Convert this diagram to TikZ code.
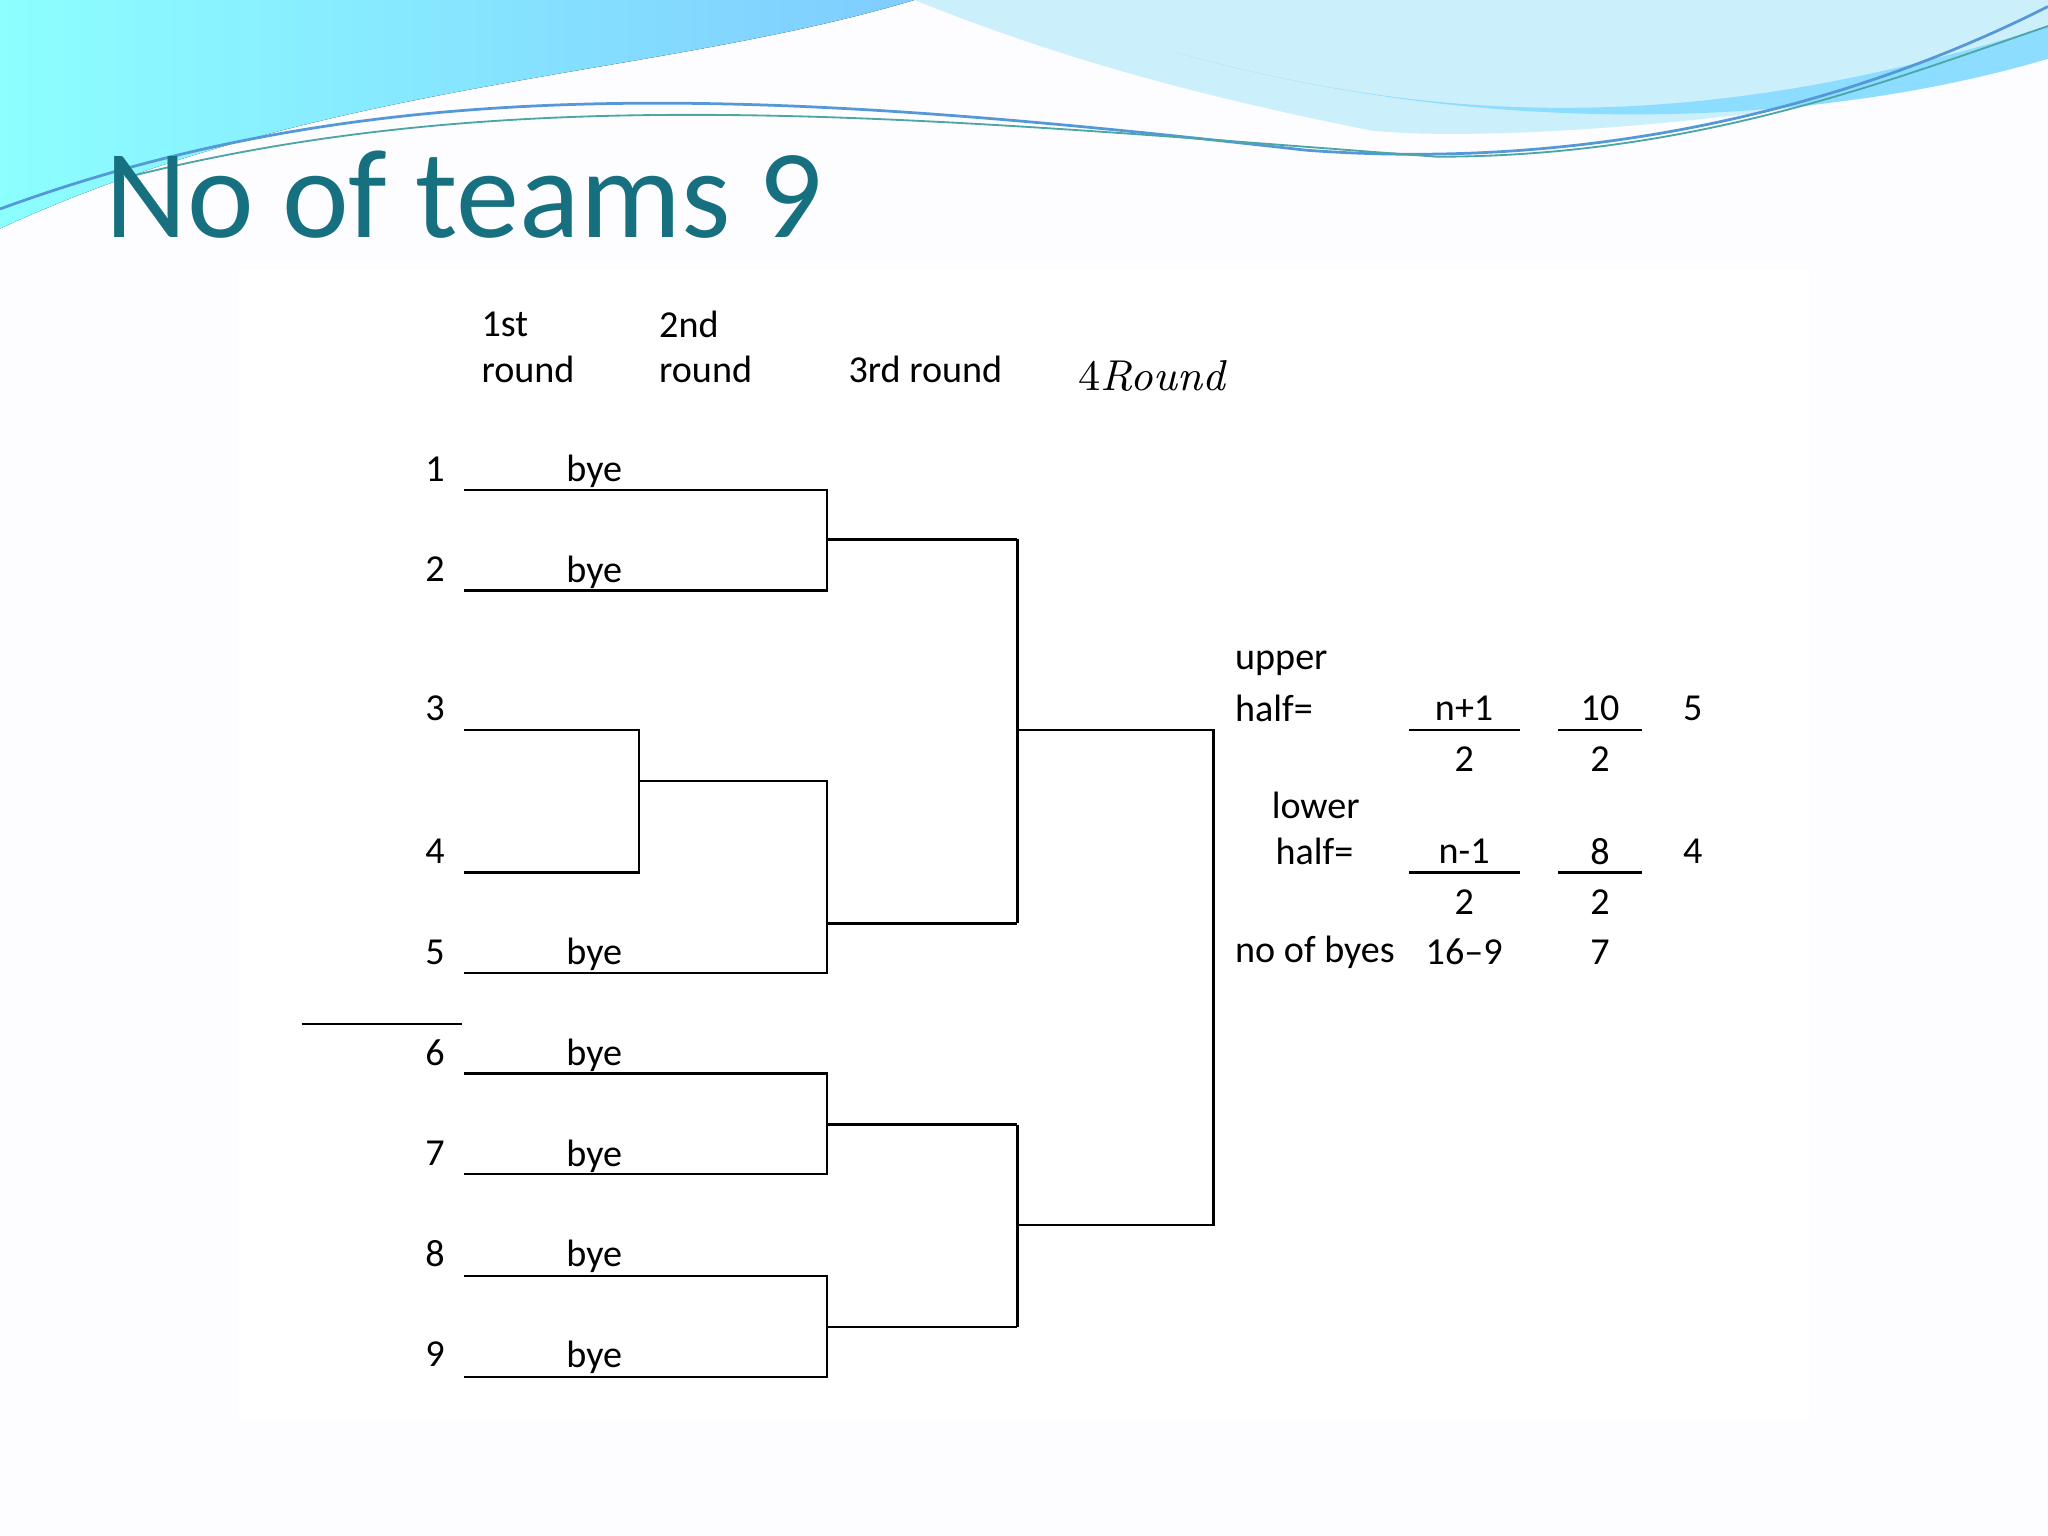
\documentclass[tikz,border=0pt]{standalone}
\usepackage{fontspec}
\setmainfont{Carlito}
\definecolor{ttl}{HTML}{17707F}
\begin{document}
\begin{tikzpicture}[x=0.01cm,y=-0.01cm,
  t/.style={font=\fontsize{8.3}{10}\selectfont,inner sep=0pt},
  br/.style={line width=0.5pt,black}]
\useasboundingbox (0,0) rectangle (1568,1176);
\fill[white!97!blue!20] (0,0) rectangle (1568,1176);
\fill[white] (183,207) rectangle (1385,1087);
% waves
\fill[left color=cyan!45!white, right color=blue!40!cyan!50!white] (0,0) -- (700,0) .. controls (500,60) and (250,60) .. (0,175) -- cycle;
\fill[cyan!20!white] (700,0) -- (1568,0) -- (1568,45) .. controls (1400,90) and (1150,110) .. (1050,100) .. controls (900,70) and (800,40) .. (700,0) -- cycle;
\fill[blue!30!cyan!45!white] (900,40) .. controls (1100,95) and (1300,105) .. (1568,20) -- (1568,45) .. controls (1400,95) and (1150,110) .. (900,40);
\draw[cyan!60!blue!70,line width=0.6pt] (0,160) .. controls (300,50) and (600,70) .. (1000,115) .. controls (1200,130) and (1400,90) .. (1568,5);
\draw[teal!70,line width=0.4pt] (100,135) .. controls (400,60) and (700,90) .. (1100,120) .. controls (1300,120) and (1450,60) .. (1568,20);
\node[anchor=base west,inner sep=0pt,text=ttl,font=\fontsize{27.5}{30}\selectfont] (title) at (80,182) {No of teams 9};
% headers
\node[t,anchor=west] (h1a) at (368,248) {1st};
\node[t,anchor=west] (h1b) at (368,283) {round};
\node[t,anchor=west] (h2a) at (504,248) {2nd};
\node[t,anchor=west] (h2b) at (504,283) {round};
\node[t,anchor=west] (h3) at (649,283) {3rd round};
\node[anchor=west,inner sep=0pt,font=\fontspec{Latin Modern Roman}\fontsize{9.4}{12}\selectfont] (h4) at (825,288) {4\textit{Round}};
% numbers and byes
\foreach \n/\y/\b in {1/359/1,2/436/1,3/542/0,4/652/0,5/729/1,6/806/1,7/883/1,8/960/1,9/1037/1}{
  \node[t] (n\n) at (333,\y) {\n};
  \ifnum\b=1 \node[t] (b\n) at (455,\y+2) {bye};\fi
}
% bracket
\coordinate (a1) at (355,375); \coordinate (a2) at (355,452);
\draw[br] (a1) -- (633,375) -- (633,452) -- (a2);
\draw[br] (633,413) -- (779,413);
\draw[br] (355,559) -- (489,559) -- (489,668) -- (355,668);
\draw[br] (489,598) -- (633,598) -- (633,745) -- (355,745);
\draw[br] (633,707) -- (779,707);
\draw[br] (779,413) -- (779,707);
\draw[br] (779,559) -- (929,559) -- (929,938) -- (779,938);
\draw[br] (231,784) -- (354,784);
\draw[br] (355,822) -- (633,822) -- (633,899) -- (355,899);
\draw[br] (633,861) -- (779,861);
\draw[br] (355,977) -- (633,977) -- (633,1054) -- (355,1054);
\draw[br] (633,1016) -- (779,1016);
\draw[br] (779,861) -- (779,1016);
% right side
\node[t,anchor=west] (up) at (945,508) {upper};
\node[t,anchor=west] (uh) at (945,542) {half=};
\node[t] (np1) at (1121,542) {n+1};
\node[t] (ten) at (1225,542) {10};
\node[t] (five) at (1296,542) {5};
\draw[br] (1079,559) -- (1164,559);
\draw[br] (1193,559) -- (1257,559);
\node[t] (d1) at (1121,581) {2};
\node[t] (d2) at (1225,581) {2};
\node[t,anchor=west] (lo) at (973,617) {lower};
\node[t,anchor=west] (lh) at (976,652) {half=};
\node[t] (nm1) at (1121,652) {n-1};
\node[t] (eight) at (1225,652) {8};
\node[t] (four) at (1296,652) {4};
\draw[br] (1079,668) -- (1164,668);
\draw[br] (1193,668) -- (1257,668);
\node[t] (d3) at (1121,691) {2};
\node[t] (d4) at (1225,691) {2};
\node[t,anchor=west] (nb) at (945,729) {no of byes};
\node[t] (sx) at (1121,729) {16–9};
\node[t] (sv) at (1225,729) {7};
\end{tikzpicture}
\end{document}
